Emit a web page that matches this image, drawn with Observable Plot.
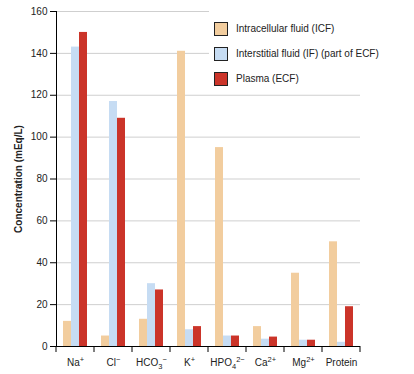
<!DOCTYPE html>
<html><head><meta charset="utf-8">
<script src="https://cdn.jsdelivr.net/npm/d3@7"></script>
<script src="https://cdn.jsdelivr.net/npm/@observablehq/plot@0.6"></script>
<style>
body{margin:0;background:#fff;font-family:"Liberation Sans",Arial,Helvetica,sans-serif}
#wrap{position:relative;width:414px;height:374px;overflow:hidden}
#legend{position:absolute;left:209px;top:9px;width:190px;background:#fff;padding:7px 0 0 5px}
.row{display:flex;align-items:center;height:25px;font-size:10px;color:#222;white-space:nowrap}
.sw{width:12px;height:12px;border:1px solid #222;margin-right:8px;flex:none}
</style></head><body><div id="wrap"><div id="legend"></div></div>
<script>
// categories (ions) and their label parts: base, subscript, superscript
const ions = ["Na+", "Cl-", "HCO3-", "K+", "HPO4 2-", "Ca2+", "Mg2+", "Protein"];
const labelBase = ["Na", "Cl", "HCO", "K", "HPO", "Ca", "Mg", "Protein"];
const labelSub = ["", "", "3", "", "4", "", "", ""];
const labelSup = ["+", "\u2212", "\u2212", "+", "2\u2212", "2+", "2+", ""];

// series
const seriesNames = ["Intracellular fluid (ICF)", "Interstitial fluid (IF) (part of ECF)", "Plasma (ECF)"];
const seriesColors = ["#f2cd9e", "#c6dcf3", "#cb3429"];
const icf = [12, 5, 13, 141, 95, 9.5, 35, 50];
const interstitial = [143, 117, 30, 8, 5, 3.5, 3, 2];
const plasma = [150, 109, 27, 9.5, 5, 4.5, 3, 19];
const yTicks = [0, 20, 40, 60, 80, 100, 120, 140, 160];

const seriesValues = [icf, interstitial, plasma];
const data = ions.flatMap((ion, i) => seriesNames.map((s, j) => ({ion, series: s, value: seriesValues[j][i]})));

const plot = Plot.plot({
  width: 414,
  height: 374,
  marginLeft: 55,
  marginRight: 54,
  marginTop: 11,
  marginBottom: 28,
  style: {fontFamily: '"Liberation Sans", Arial, sans-serif', fontSize: "10px", color: "#222", background: "#fff"},
  facet: {data, x: "ion"},
  fx: {domain: ions, paddingInner: 0, paddingOuter: 0, label: null, axis: null},
  x: {domain: seriesNames, paddingInner: 0, paddingOuter: 0.78, axis: null},
  y: {domain: [0, 160], axis: null},
  color: {domain: seriesNames, range: seriesColors},
  marks: [
    Plot.gridY(yTicks, {stroke: "#cfcfcf", strokeOpacity: 1}),
    Plot.barY(data, {x: "series", y: "value", fill: "series"}),
    Plot.ruleY([0], {stroke: "#000"}),
    Plot.frame({anchor: "left", facetAnchor: "left", stroke: "#000"}),
    Plot.axisY(yTicks, {tickSize: 6, tickPadding: 3, stroke: "#000", label: "Concentration (mEq/L)", labelAnchor: "center", labelArrow: "none", labelOffset: 42, fontSize: 10}),
    Plot.axisFx({anchor: "bottom", tickSize: 0, tickPadding: 12, label: null, fontSize: 10, tickFormat: d => d})
  ]
});
document.getElementById("wrap").prepend(plot);

// rich tick labels (subscripts / superscripts)
d3.select(plot).selectAll('g[aria-label="fx-axis tick label"] text').each(function () {
  const t = d3.select(this);
  const i = ions.indexOf(this.textContent);
  if (i < 0) return;
  t.text(null);
  t.append("tspan").text(labelBase[i]);
  let shift = 0;
  if (labelSub[i]) { t.append("tspan").attr("dy", 3).attr("font-size", 7.5).text(labelSub[i]); shift = 3; }
  if (labelSup[i]) { t.append("tspan").attr("dy", -4 - shift).attr("font-size", 7.5).text(labelSup[i]); }
});
d3.select(plot).selectAll('g[aria-label="y-axis label"] text').attr("font-weight", "bold");

// tick marks at category boundaries, computed from Plot's fx scale
const fx = plot.scale("fx");
const ys = plot.scale("y");
const bounds = ions.map(d => fx.apply(d)).concat([fx.apply(ions[ions.length - 1]) + fx.bandwidth]);
const y0 = ys.apply(0);
d3.select(plot).append("g").attr("stroke", "#000").selectAll("line").data(bounds).join("line")
  .attr("x1", d => d).attr("x2", d => d).attr("y1", y0).attr("y2", y0 + 6);

// legend
const legend = d3.select("#legend");
seriesNames.forEach((s, j) => {
  const row = legend.append("div").attr("class", "row");
  row.append("div").attr("class", "sw").style("background", seriesColors[j]);
  row.append("span").text(s);
});
</script></body></html>
